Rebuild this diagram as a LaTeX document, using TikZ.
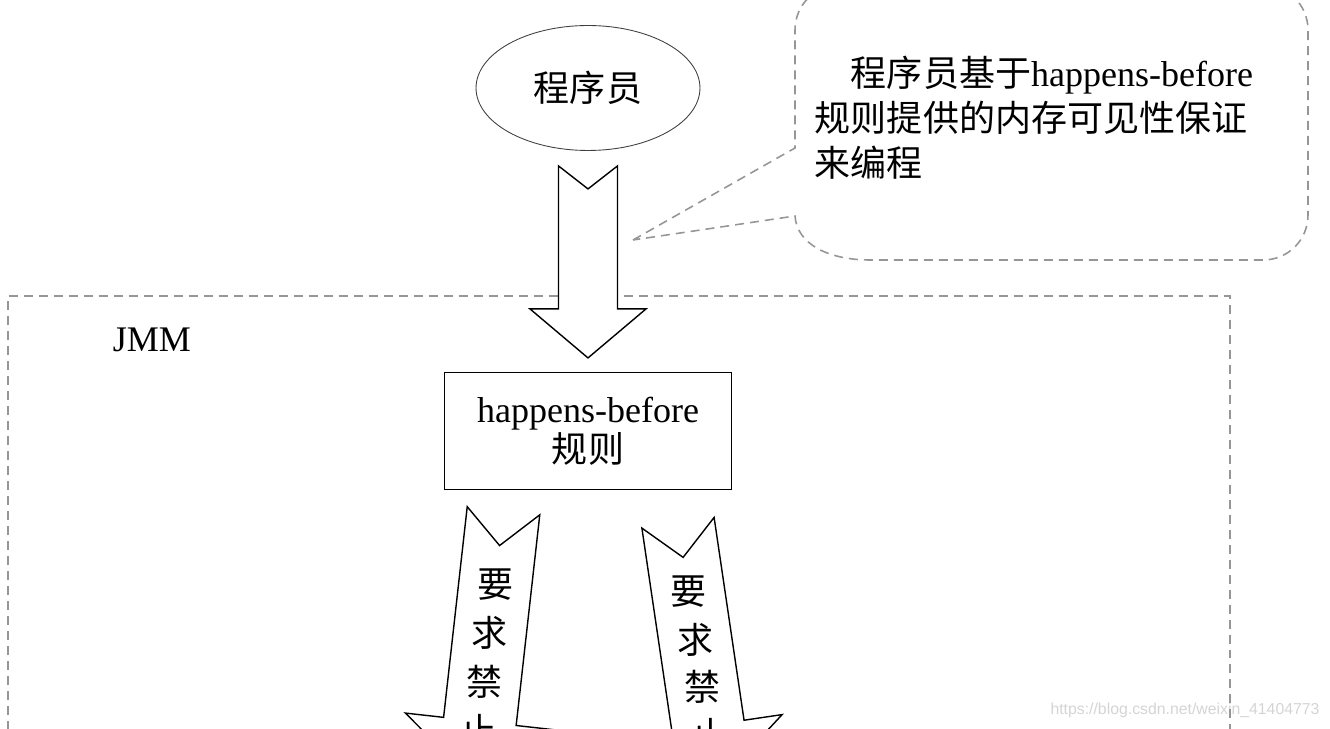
\documentclass[tikz,border=0pt]{standalone}
\usepackage{fontspec}
\usepackage{tikz}
\usetikzlibrary{positioning,calc,shapes.geometric}
\setmainfont{Liberation Serif}
\newfontfamily\cjk{Noto Sans CJK SC}
\newfontfamily\marksans{Liberation Sans}
\definecolor{dashgray}{RGB}{150,150,150}
\definecolor{markgray}{RGB}{212,212,212}

\begin{document}
\begin{tikzpicture}[x=0.02cm,y=-0.02cm,
  every node/.style={font=\fontsize{20.5}{25.5}\selectfont,align=center,inner sep=0pt},
  dashline/.style={draw=dashgray,line width=0.9pt,dash pattern=on 0.18cm off 0.12cm},
  blockarrow/.style={draw,line width=0.8pt,fill=white,line join=miter}]
  \useasboundingbox (0,0) rectangle (1330,729);
  \clip (0,0) rectangle (1330,729);
  \node[draw=black!75,line width=0.5pt,ellipse,minimum width=4.48cm,minimum height=2.5cm] (prog) at (588,88) {\cjk 程序员};
  \node[draw,line width=0.8pt,minimum width=5.74cm,minimum height=2.34cm,below=4.42cm of prog,font=\fontsize{20.5}{23}\selectfont] (hb) {happens-before\\{\cjk 规则}};
  \node[font=\fontsize{20.5}{22}\selectfont] (jmm) at (152,340) {JMM};
  \node[align=left] (note) at (1034,118) {\hspace*{1em}{\cjk 程序员基于}happens-before\\{\cjk 规则提供的内存可见性保证}\\{\cjk 来编程}};
  \node[font=\marksans\fontsize{9}{10}\selectfont,text=markgray] (mark) at (1185,710) {https://blog.csdn.net/weixin\_41404773};
  \coordinate (tip) at (633,240);
  \draw[dashline] (tip) -- (795,148) -- (795,30) .. controls (795,5) and (815,-15) .. (840,-15) -- (1263,-15)
    .. controls (1288,-15) and (1308,5) .. (1308,30) -- (1308,215) .. controls (1308,240) and (1288,260) .. (1263,260)
    -- (870,260) .. controls (830,260) and (797,245) .. (795,216) -- cycle;
  \draw[dashline] (8,760) -- (8,296) -- (1230,296) -- (1230,760);
  \begin{scope}[shift={(prog.south)}]
    \draw[blockarrow] (-29.5,15) -- (0,38) -- (29.5,15) -- (29.5,158) -- (58,158) -- (0,207) -- (-58,158) -- (-29.5,158) -- cycle;
  \end{scope}
  \begin{scope}[shift={($(hb.south)+(-84.5,20.5)$)},rotate=-6.4]
    \draw[blockarrow] (-36.5,0) -- (0,35) -- (36.5,0) -- (36.5,212) -- (75,212) -- (0,272) -- (-75,212) -- (-36.5,212) -- cycle;
    \node (l1) at (0,74) {\cjk 要};
    \node (l2) at (0,123) {\cjk 求};
    \node (l3) at (0,172) {\cjk 禁};
    \node (l4) at (0,221) {\cjk 止};
  \end{scope}
  \begin{scope}[shift={($(hb.south)+(90,32.5)$)},rotate=8.4]
    \draw[blockarrow] (-36.5,0) -- (0,35) -- (36.5,0) -- (36.5,205) -- (75,205) -- (0,265) -- (-75,205) -- (-36.5,205) -- cycle;
    \node (r1) at (0,70) {\cjk 要};
    \node (r2) at (0,118) {\cjk 求};
    \node (r3) at (0,166) {\cjk 禁};
    \node (r4) at (0,214) {\cjk 止};
  \end{scope}
\end{tikzpicture}
\end{document}
